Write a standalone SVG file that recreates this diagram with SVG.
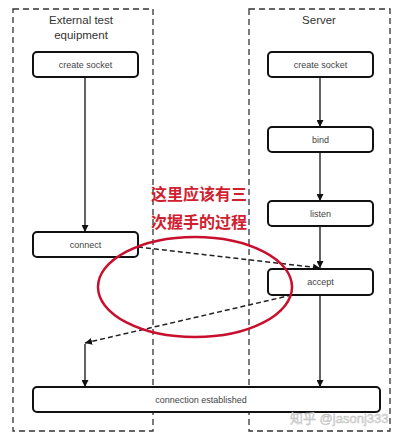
<svg xmlns="http://www.w3.org/2000/svg" width="405" height="440" viewBox="0 0 405 440">
<style>
.lane{fill:none;stroke:#333;stroke-width:1.3;stroke-dasharray:6,4}
.node rect{fill:#fff;stroke:#111;stroke-width:2}
.node text{font-family:"Liberation Sans",Arial,sans-serif;font-size:9px;fill:#444;text-anchor:middle}
.title{font-family:"Liberation Sans",Arial,sans-serif;font-size:11.5px;fill:#333;text-anchor:middle}
.solid{fill:none;stroke:#222;stroke-width:1.4}
.dash{fill:none;stroke:#222;stroke-width:1.5;stroke-dasharray:5,3}
.note{font-family:"Noto Sans CJK SC",sans-serif;font-size:16px;font-weight:bold;fill:#d02030}
.wm{font-family:"Liberation Sans","Noto Sans CJK SC",sans-serif;font-size:13px;fill:#ddd;stroke:#bbb;stroke-width:0.4}
</style>
<defs>
<marker id="ah" viewBox="0 0 10 10" refX="10" refY="5" markerWidth="7" markerHeight="7" orient="auto" markerUnits="userSpaceOnUse">
<path d="M0,0 L10,5 L0,10 z" fill="#111"/>
</marker>
</defs>
<rect width="405" height="440" fill="#fff"/>
<g id="lane-external">
<rect class="lane" x="13" y="9" width="140" height="422"/>
<text class="title" x="81" y="24">External test</text>
<text class="title" x="81" y="39">equipment</text>
</g>
<g id="lane-server">
<rect class="lane" x="249" y="9" width="141" height="422"/>
<text class="title" x="319" y="24">Server</text>
</g>
<g id="connectors">
<line class="solid" x1="85" y1="77" x2="85" y2="232" marker-end="url(#ah)"/>
<line class="solid" x1="320" y1="77" x2="320" y2="127" marker-end="url(#ah)"/>
<line class="solid" x1="320" y1="152" x2="320" y2="201" marker-end="url(#ah)"/>
<line class="solid" x1="320" y1="226" x2="320" y2="268" marker-end="url(#ah)"/>
<line class="solid" x1="320" y1="295" x2="320" y2="387" marker-end="url(#ah)"/>
<line class="dash" x1="138" y1="247" x2="320" y2="268" marker-end="url(#ah)"/>
<line class="dash" x1="292" y1="295" x2="85" y2="343" marker-end="url(#ah)"/>
<line class="solid" x1="85" y1="344" x2="85" y2="387" marker-end="url(#ah)"/>
</g>
<g id="n-create-left" class="node">
<rect x="33" y="52" width="105" height="25" rx="4"/>
<text x="85.5" y="68">create socket</text>
</g>
<g id="n-connect" class="node">
<rect x="33" y="232" width="105" height="25" rx="4"/>
<text x="85.5" y="248">connect</text>
</g>
<g id="n-create-right" class="node">
<rect x="268" y="52" width="105" height="25" rx="4"/>
<text x="320.5" y="68">create socket</text>
</g>
<g id="n-bind" class="node">
<rect x="268" y="127" width="105" height="25" rx="4"/>
<text x="320.5" y="143">bind</text>
</g>
<g id="n-listen" class="node">
<rect x="268" y="201" width="105" height="25" rx="4"/>
<text x="320.5" y="217">listen</text>
</g>
<g id="n-accept" class="node">
<rect x="268" y="269" width="105" height="26" rx="4"/>
<text x="320.5" y="285">accept</text>
</g>
<g id="n-established" class="node">
<rect x="33" y="387" width="347" height="25" rx="4"/>
<text x="201" y="403">connection established</text>
</g>
<g id="annotation">
<ellipse cx="195" cy="287" rx="97" ry="50" fill="none" stroke="#c8102e" stroke-width="2.5"/>
<text class="note" x="151" y="200">这里应该有三</text>
<text class="note" x="151" y="228">次握手的过程</text>
</g>
<text class="wm" x="290" y="423">知乎 @jasonj333</text>
</svg>
